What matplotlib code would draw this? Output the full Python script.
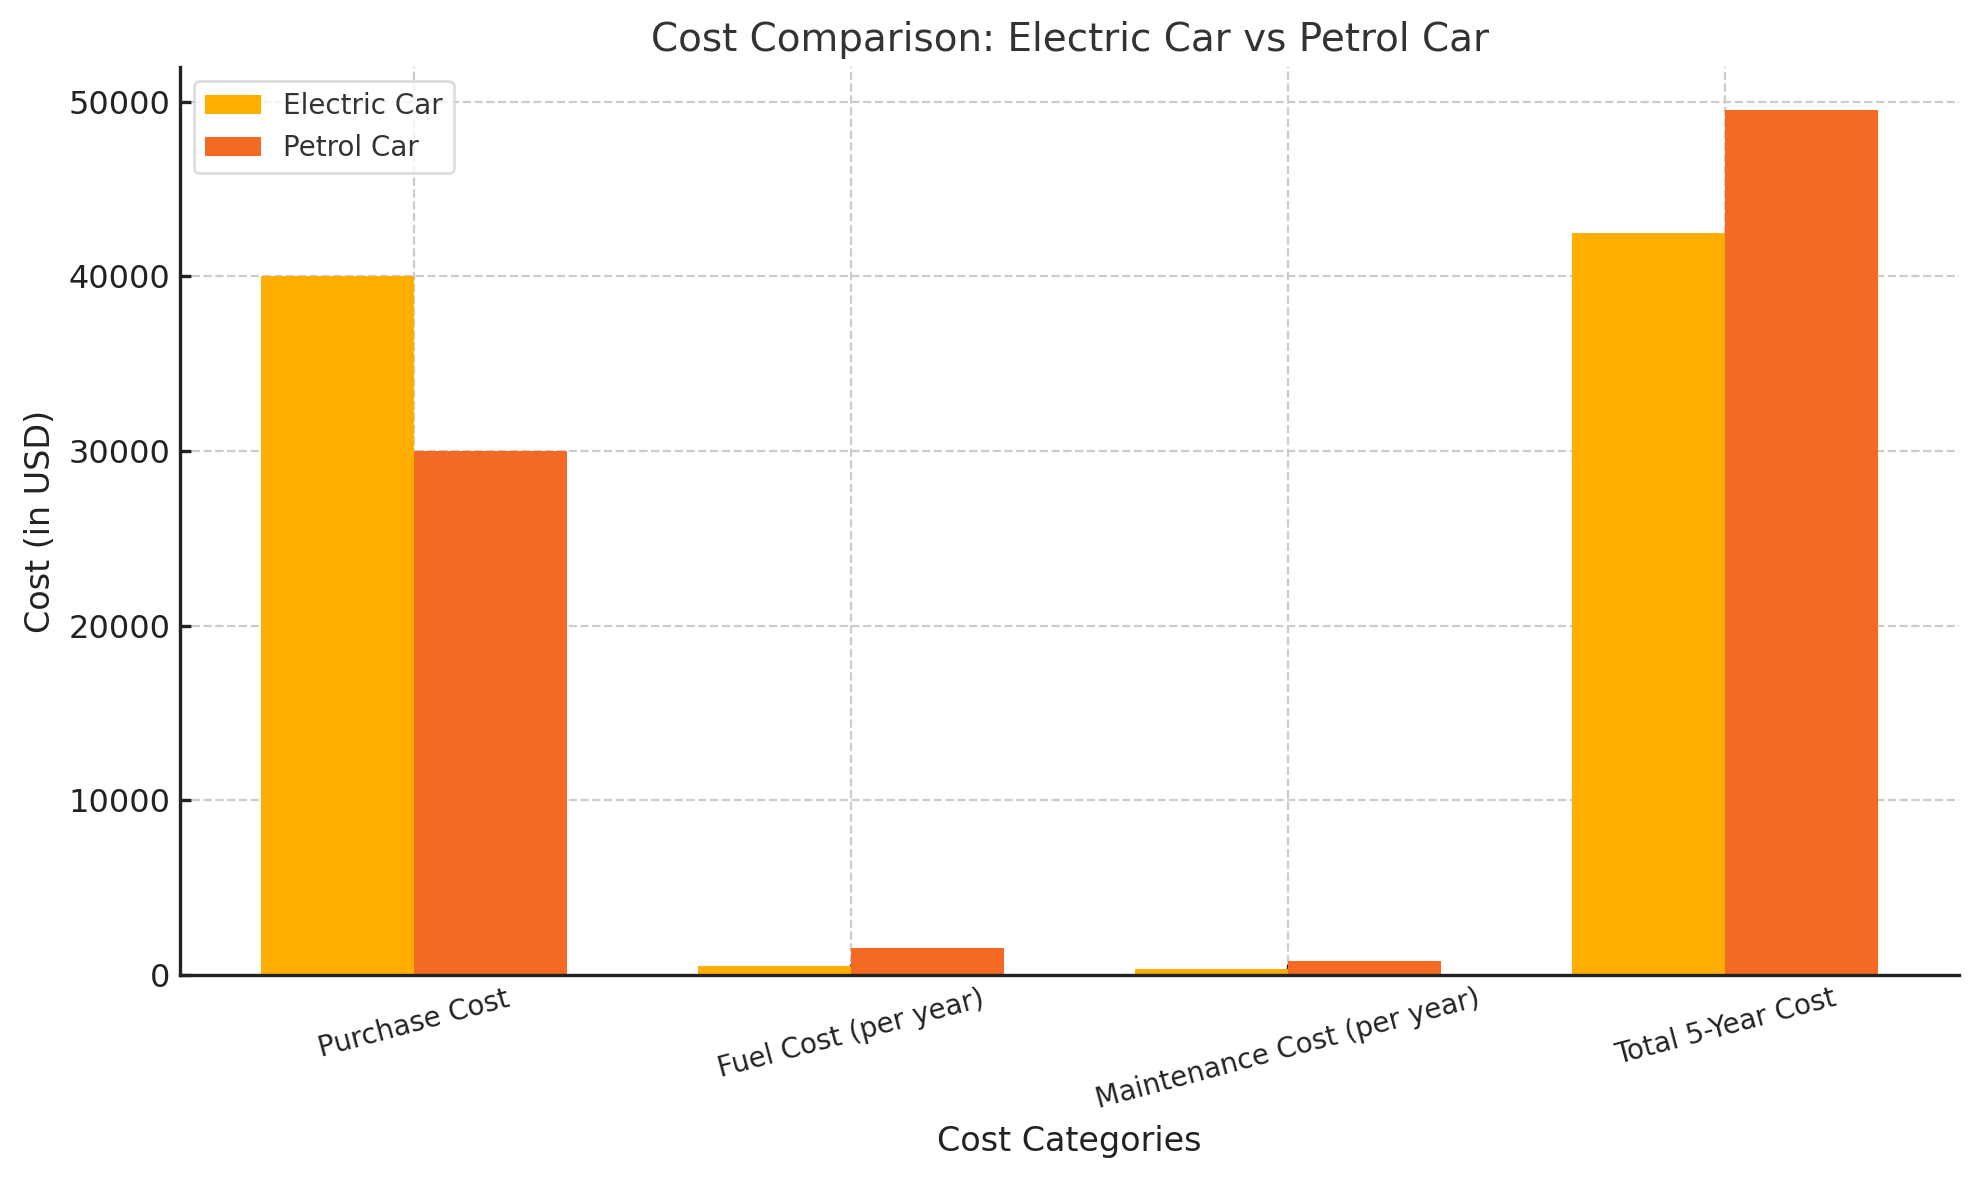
import matplotlib

matplotlib.use("Agg")
import matplotlib.pyplot as plt
import numpy as np


CATEGORIES = [
    "Purchase Cost",
    "Fuel Cost (per year)",
    "Maintenance Cost (per year)",
    "Total 5-Year Cost",
]
ELECTRIC_COSTS = [40000, 500, 300, 42500]
PETROL_COSTS = [30000, 1500, 800, 49500]
SERIES_NAMES = ["Electric Car", "Petrol Car"]

ELECTRIC_COLOR = "#ffae00"
PETROL_COLOR = "#f46a22"
TEXT_COLOR = "#333333"


def main() -> None:
    fig = plt.figure(figsize=(9.895, 5.9), dpi=200)
    ax = fig.add_axes([0.091, 0.174, 0.899, 0.769])

    x = np.arange(len(CATEGORIES))
    width = 0.35
    ax.bar(x - width / 2, ELECTRIC_COSTS, width, label=SERIES_NAMES[0], color=ELECTRIC_COLOR)
    ax.bar(x + width / 2, PETROL_COSTS, width, label=SERIES_NAMES[1], color=PETROL_COLOR)

    ax.set_title("Cost Comparison: Electric Car vs Petrol Car", fontsize=14, color=TEXT_COLOR)
    ax.set_xlabel("Cost Categories", fontsize=12, color="#222222")
    ax.set_ylabel("Cost (in USD)", fontsize=12, color="#222222")
    ax.set_xticks(x)
    ax.set_xticklabels(CATEGORIES, rotation=15, fontsize=10)
    ax.tick_params(axis="y", labelsize=11.5)
    ax.tick_params(direction="in", length=4, width=1.2, colors="#222222")

    ax.grid(True, linestyle="--", color="#cccccc", linewidth=0.8)
    ax.set_axisbelow(True)
    for side in ["top", "right"]:
        ax.spines[side].set_visible(False)
    for side in ["left", "bottom"]:
        ax.spines[side].set_linewidth(1.2)
        ax.spines[side].set_color("#222222")

    legend = ax.legend(loc="upper left", fontsize=10, frameon=True, edgecolor="#d6d6d6")
    for text in legend.get_texts():
        text.set_color(TEXT_COLOR)

    fig.savefig("out.png", dpi=200)
    plt.close(fig)


if __name__ == "__main__":
    main()
